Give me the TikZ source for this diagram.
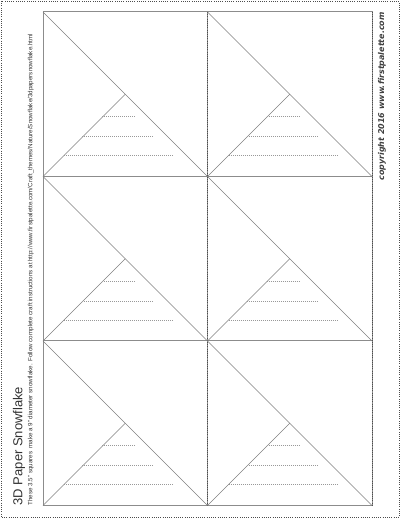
\documentclass[tikz,border=0pt]{standalone}
\usepackage{fontspec}
\setmainfont{Liberation Sans}
\newfontfamily\copyfont{DejaVu Sans}

\begin{document}
\begin{tikzpicture}[x=164.5pt, y=-164.5pt,
    square/.style={draw=black!45, line width=1pt},
    fold/.style={draw=black!50, line width=0.5pt},
    writeline/.style={draw=black!40, line width=0.5pt, dash pattern=on 0.6pt off 1.4pt},
    cutline/.style={draw=black!70, line width=0.6pt, dash pattern=on 0.6pt off 1.6pt}]
\useasboundingbox (-0.2614,-0.0729) rectangle (2.1702,3.0760);
% Page border
    \draw[cutline] (-0.2553,-0.0668) rectangle (2.1641,3.0699);
% Squares
    \draw[square] (0,0) rectangle (1,1);
    \draw[square] (1,0) rectangle (2,1);
    \draw[square] (0,1) rectangle (1,2);
    \draw[square] (1,1) rectangle (2,2);
    \draw[square] (0,2) rectangle (1,3);
    \draw[square] (1,2) rectangle (2,3);
    \draw[cutline] (1,0) -- (1,3);
    \draw[cutline] (2,0) -- (2,3);
% North-West to South-East folds
    \draw[fold] (0,0) -- (1,1);
    \draw[fold] (1,0) -- (2,1);
    \draw[fold] (0,1) -- (1,2);
    \draw[fold] (1,1) -- (2,2);
    \draw[fold] (0,2) -- (1,3);
    \draw[fold] (1,2) -- (2,3);
% South-West to centre folds
    \draw[fold] (0,1) -- (0.5,0.5);
    \draw[fold] (1,1) -- (1.5,0.5);
    \draw[fold] (0,2) -- (0.5,1.5);
    \draw[fold] (1,2) -- (1.5,1.5);
    \draw[fold] (0,3) -- (0.5,2.5);
    \draw[fold] (1,3) -- (1.5,2.5);
% Writing lines
    \draw[writeline] (0.36,0.636) -- (0.56,0.636);
    \draw[writeline] (0.24,0.758) -- (0.67,0.758);
    \draw[writeline] (0.13,0.873) -- (0.79,0.873);
    \draw[writeline] (1.36,0.636) -- (1.56,0.636);
    \draw[writeline] (1.24,0.758) -- (1.67,0.758);
    \draw[writeline] (1.13,0.873) -- (1.79,0.873);
    \draw[writeline] (0.36,1.636) -- (0.56,1.636);
    \draw[writeline] (0.24,1.758) -- (0.67,1.758);
    \draw[writeline] (0.13,1.873) -- (0.79,1.873);
    \draw[writeline] (1.36,1.636) -- (1.56,1.636);
    \draw[writeline] (1.24,1.758) -- (1.67,1.758);
    \draw[writeline] (1.13,1.873) -- (1.79,1.873);
    \draw[writeline] (0.36,2.636) -- (0.56,2.636);
    \draw[writeline] (0.24,2.758) -- (0.67,2.758);
    \draw[writeline] (0.13,2.873) -- (0.79,2.873);
    \draw[writeline] (1.36,2.636) -- (1.56,2.636);
    \draw[writeline] (1.24,2.758) -- (1.67,2.758);
    \draw[writeline] (1.13,2.873) -- (1.79,2.873);
% Labels
    \node[rotate=90, anchor=base west, inner sep=0pt, text=black!80,
        font=\fontsize{13}{13}\selectfont] (title) at (-0.125,3.0) {3D Paper Snowflake};
    \node[rotate=90, anchor=base west, inner sep=0pt, text=black!80,
        font=\fontsize{6.2}{6.2}\selectfont] (howto) at (-0.064,3.0)
        {These 3.5" squares\ \ make a 9" diameter snowflake. Follow complete craft instructions at http://www.firstpalette.com/Craft\_themes/Nature/Snowflake/3dpapersnowflake.html};
    \node[rotate=90, anchor=base east, inner sep=0pt, text=black!75,
        font=\copyfont\bfseries\itshape\fontsize{8}{8}\selectfont] (copyright) at (2.073,0)
        {copyright 2016 www.firstpalette.com};
\end{tikzpicture}
\end{document}
